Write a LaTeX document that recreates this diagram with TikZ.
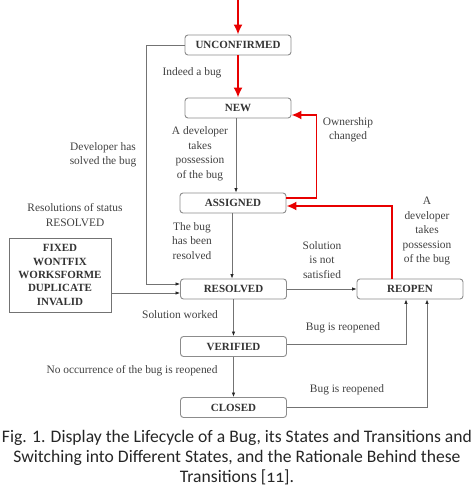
\documentclass[tikz,border=0pt]{standalone}
\usepackage{fontspec}
\setmainfont{Liberation Serif}
\newfontfamily\capfont[Numbers=OldStyle]{Carlito}
\usetikzlibrary{arrows.meta}
\definecolor{arrowred}{RGB}{232,0,0}
\begin{document}
\begin{tikzpicture}[x=1pt,y=-1pt,
  state/.style={draw=black!45, line width=0.9pt, rounded corners=3pt, fill=white,
    minimum width=106pt, minimum height=20pt, inner sep=0pt,
    font=\fontsize{11}{13}\selectfont\bfseries, text=black!80},
  lbl/.style={align=center, font=\fontsize{11.4}{14.5}\selectfont, text=black!75, inner sep=0pt},
  garrow/.style={draw=black!55, line width=0.7pt, -{Latex[length=4.5pt,width=3.5pt,color=black!85]}},
  rarrow/.style={draw=arrowred, line width=1.8pt, -{Latex[length=10pt,width=9pt]}},
]
\useasboundingbox (0,0) rectangle (474,500);

% states
\node[state] (unconf) at (238,45) {UNCONFIRMED};
\node[state] (new) at (238,108) {NEW};
\node[state] (assigned) at (233,203) {ASSIGNED};
\node[state] (resolved) at (233.5,289) {RESOLVED};
\node[state] (reopen) at (410,289) {REOPEN};
\node[state] (verified) at (233.5,346.5) {VERIFIED};
\node[state] (closed) at (233.5,407.5) {CLOSED};
\node[draw=black!55, line width=0.9pt, minimum width=102pt, minimum height=74pt, inner sep=0pt,
  align=center, font=\fontsize{11}{13.4}\selectfont\bfseries, text=black!80]
  (fixbox) at (60,275) {FIXED\\WONTFIX\\WORKSFORME\\DUPLICATE\\INVALID};

% labels
\node[lbl] (lindeed) at (192,73) {Indeed a bug};
\node[lbl] (ltakes1) at (200,154) {A developer\\takes\\possession\\of the bug};
\node[lbl] (lowner) at (348,130) {Ownership\\changed};
\node[lbl] (lsolved) at (103,155) {Developer has\\solved the bug};
\node[lbl] (lresol) at (75,215) {Resolutions of status\\RESOLVED};
\node[lbl] (lbeen) at (192,241) {The bug\\has been\\resolved};
\node[lbl] (lnotsat) at (322,260) {Solution\\is not\\satisfied};
\node[lbl] (ltakes2) at (427,231) {A\\developer\\takes\\possession\\of the bug};
\node[lbl] (lworked) at (180,315) {Solution worked};
\node[lbl] (lreop1) at (343,328) {Bug is reopened};
\node[lbl] (lnoocc) at (132,371) {No occurrence of the bug is reopened};
\node[lbl] (lreop2) at (347,390) {Bug is reopened};

% caption
\node[align=center, font=\capfont\fontsize{17.6}{20}\selectfont, text=black!85, inner sep=0pt]
  (caption) at (237,458) {Fig. {\addfontfeature{Numbers=Lining}1}. Display the Lifecycle of a Bug, its States and Transitions and\\
  Switching into Different States, and the Rationale Behind these\\
  Transitions [11].};

% red connectors
\coordinate (start) at (238,0);
\draw[rarrow] (start) -- (unconf.north);
\draw[rarrow] (unconf.south) -- (new.north);
\draw[rarrow] ([yshift=5pt]assigned.east) -- ++(30,0) |- ([yshift=-7pt]new.east);
\draw[rarrow] ([xshift=-18pt]reopen.north) |- ([yshift=-3pt]assigned.east);

% gray connectors
\draw[garrow] ([xshift=-2pt]new.south) -- ([xshift=-2pt]new.south |- assigned.north);
\draw[garrow] ([xshift=-1pt]assigned.south) -- ([xshift=-1pt]assigned.south |- resolved.north);
\draw[garrow] (unconf.west) -- ++(-38,0) |- ([yshift=5pt]resolved.west);
\draw[garrow] ([yshift=-4pt]resolved.west -| fixbox.east) -- ([yshift=-4pt]resolved.west);
\draw[garrow] (resolved.east) -- (reopen.west);
\draw[garrow] (resolved.south) -- (verified.north);
\draw[garrow] (verified.south) -- (closed.north);
\draw[garrow] ([yshift=2pt]verified.east) -| ([xshift=-4pt]reopen.south);
\draw[garrow] (closed.east) -| ([xshift=17pt]reopen.south);
\end{tikzpicture}
\end{document}
